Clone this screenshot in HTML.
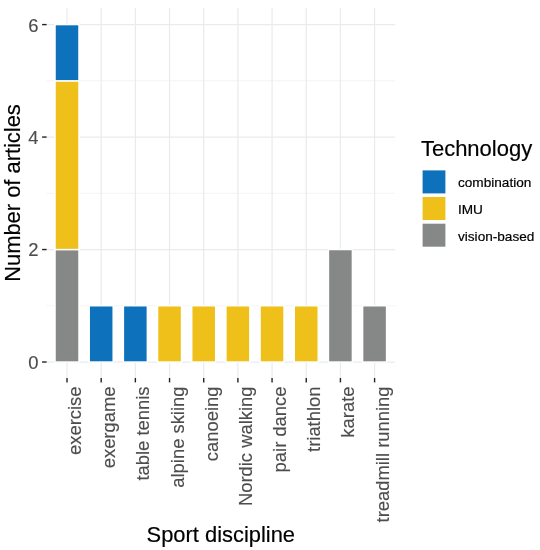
<!DOCTYPE html>
<html lang="en"><head><meta charset="utf-8"><title>Sport discipline chart</title>
<style>html,body{margin:0;padding:0;background:#fff}body{width:540px;height:550px;overflow:hidden;position:relative}</style>
</head><body>
<svg width="540" height="550" viewBox="0 0 540 550" style="display:block;position:absolute;left:0;top:0">
<rect width="540" height="550" fill="#fff"/>
<g><line x1="46.50" x2="395.10" y1="305.77" y2="305.77" stroke="#ececee" stroke-width="0.6"/><line x1="46.50" x2="395.10" y1="193.30" y2="193.30" stroke="#ececee" stroke-width="0.6"/><line x1="46.50" x2="395.10" y1="80.83" y2="80.83" stroke="#ececee" stroke-width="0.6"/><line x1="46.50" x2="395.10" y1="362.00" y2="362.00" stroke="#eaebed" stroke-width="1.25"/><line x1="46.50" x2="395.10" y1="249.53" y2="249.53" stroke="#eaebed" stroke-width="1.25"/><line x1="46.50" x2="395.10" y1="137.07" y2="137.07" stroke="#eaebed" stroke-width="1.25"/><line x1="46.50" x2="395.10" y1="24.60" y2="24.60" stroke="#eaebed" stroke-width="1.25"/><line x1="67.01" x2="67.01" y1="8.00" y2="378.00" stroke="#eaebed" stroke-width="1.25"/><line x1="101.18" x2="101.18" y1="8.00" y2="378.00" stroke="#eaebed" stroke-width="1.25"/><line x1="135.36" x2="135.36" y1="8.00" y2="378.00" stroke="#eaebed" stroke-width="1.25"/><line x1="169.54" x2="169.54" y1="8.00" y2="378.00" stroke="#eaebed" stroke-width="1.25"/><line x1="203.71" x2="203.71" y1="8.00" y2="378.00" stroke="#eaebed" stroke-width="1.25"/><line x1="237.89" x2="237.89" y1="8.00" y2="378.00" stroke="#eaebed" stroke-width="1.25"/><line x1="272.06" x2="272.06" y1="8.00" y2="378.00" stroke="#eaebed" stroke-width="1.25"/><line x1="306.24" x2="306.24" y1="8.00" y2="378.00" stroke="#eaebed" stroke-width="1.25"/><line x1="340.42" x2="340.42" y1="8.00" y2="378.00" stroke="#eaebed" stroke-width="1.25"/><line x1="374.59" x2="374.59" y1="8.00" y2="378.00" stroke="#eaebed" stroke-width="1.25"/></g>
<g><rect x="55.04" y="249.53" width="23.92" height="112.47" fill="#868887" stroke="#fff" stroke-width="1.42"/><rect x="55.04" y="80.83" width="23.92" height="168.70" fill="#EFBF1A" stroke="#fff" stroke-width="1.42"/><rect x="55.04" y="24.60" width="23.92" height="56.23" fill="#0D72BB" stroke="#fff" stroke-width="1.42"/><rect x="89.22" y="305.77" width="23.92" height="56.23" fill="#0D72BB" stroke="#fff" stroke-width="1.42"/><rect x="123.40" y="305.77" width="23.92" height="56.23" fill="#0D72BB" stroke="#fff" stroke-width="1.42"/><rect x="157.57" y="305.77" width="23.92" height="56.23" fill="#EFBF1A" stroke="#fff" stroke-width="1.42"/><rect x="191.75" y="305.77" width="23.92" height="56.23" fill="#EFBF1A" stroke="#fff" stroke-width="1.42"/><rect x="225.93" y="305.77" width="23.92" height="56.23" fill="#EFBF1A" stroke="#fff" stroke-width="1.42"/><rect x="260.10" y="305.77" width="23.92" height="56.23" fill="#EFBF1A" stroke="#fff" stroke-width="1.42"/><rect x="294.28" y="305.77" width="23.92" height="56.23" fill="#EFBF1A" stroke="#fff" stroke-width="1.42"/><rect x="328.46" y="249.53" width="23.92" height="112.47" fill="#868887" stroke="#fff" stroke-width="1.42"/><rect x="362.63" y="305.77" width="23.92" height="56.23" fill="#868887" stroke="#fff" stroke-width="1.42"/></g>
<g><line x1="42.10" x2="46.60" y1="362.00" y2="362.00" stroke="#222" stroke-width="1.4"/><line x1="42.10" x2="46.60" y1="249.53" y2="249.53" stroke="#222" stroke-width="1.4"/><line x1="42.10" x2="46.60" y1="137.07" y2="137.07" stroke="#222" stroke-width="1.4"/><line x1="42.10" x2="46.60" y1="24.60" y2="24.60" stroke="#222" stroke-width="1.4"/><line x1="67.01" x2="67.01" y1="378.00" y2="382.40" stroke="#222" stroke-width="1.4"/><line x1="101.18" x2="101.18" y1="378.00" y2="382.40" stroke="#222" stroke-width="1.4"/><line x1="135.36" x2="135.36" y1="378.00" y2="382.40" stroke="#222" stroke-width="1.4"/><line x1="169.54" x2="169.54" y1="378.00" y2="382.40" stroke="#222" stroke-width="1.4"/><line x1="203.71" x2="203.71" y1="378.00" y2="382.40" stroke="#222" stroke-width="1.4"/><line x1="237.89" x2="237.89" y1="378.00" y2="382.40" stroke="#222" stroke-width="1.4"/><line x1="272.06" x2="272.06" y1="378.00" y2="382.40" stroke="#222" stroke-width="1.4"/><line x1="306.24" x2="306.24" y1="378.00" y2="382.40" stroke="#222" stroke-width="1.4"/><line x1="340.42" x2="340.42" y1="378.00" y2="382.40" stroke="#222" stroke-width="1.4"/><line x1="374.59" x2="374.59" y1="378.00" y2="382.40" stroke="#222" stroke-width="1.4"/></g>
<g><text x="38.60" y="368.90" text-anchor="end" font-size="18.4" fill="#4d4d4d" stroke="#4d4d4d" stroke-width="0.15" font-family="Liberation Sans, Arial, Helvetica, sans-serif">0</text><text x="38.60" y="256.43" text-anchor="end" font-size="18.4" fill="#4d4d4d" stroke="#4d4d4d" stroke-width="0.15" font-family="Liberation Sans, Arial, Helvetica, sans-serif">2</text><text x="38.60" y="143.97" text-anchor="end" font-size="18.4" fill="#4d4d4d" stroke="#4d4d4d" stroke-width="0.15" font-family="Liberation Sans, Arial, Helvetica, sans-serif">4</text><text x="38.60" y="31.50" text-anchor="end" font-size="18.4" fill="#4d4d4d" stroke="#4d4d4d" stroke-width="0.15" font-family="Liberation Sans, Arial, Helvetica, sans-serif">6</text></g>
<g><text transform="translate(81.01,386.50) rotate(-90)" text-anchor="end" font-size="18.4" fill="#4d4d4d" stroke="#4d4d4d" stroke-width="0.15" font-family="Liberation Sans, Arial, Helvetica, sans-serif">exercise</text><text transform="translate(115.18,386.50) rotate(-90)" text-anchor="end" font-size="18.4" fill="#4d4d4d" stroke="#4d4d4d" stroke-width="0.15" font-family="Liberation Sans, Arial, Helvetica, sans-serif">exergame</text><text transform="translate(149.36,386.50) rotate(-90)" text-anchor="end" font-size="18.4" fill="#4d4d4d" stroke="#4d4d4d" stroke-width="0.15" font-family="Liberation Sans, Arial, Helvetica, sans-serif">table tennis</text><text transform="translate(183.54,386.50) rotate(-90)" text-anchor="end" font-size="18.4" fill="#4d4d4d" stroke="#4d4d4d" stroke-width="0.15" font-family="Liberation Sans, Arial, Helvetica, sans-serif">alpine skiing</text><text transform="translate(217.71,386.50) rotate(-90)" text-anchor="end" font-size="18.4" fill="#4d4d4d" stroke="#4d4d4d" stroke-width="0.15" font-family="Liberation Sans, Arial, Helvetica, sans-serif">canoeing</text><text transform="translate(251.89,386.50) rotate(-90)" text-anchor="end" font-size="18.4" fill="#4d4d4d" stroke="#4d4d4d" stroke-width="0.15" font-family="Liberation Sans, Arial, Helvetica, sans-serif">Nordic walking</text><text transform="translate(286.06,386.50) rotate(-90)" text-anchor="end" font-size="18.4" fill="#4d4d4d" stroke="#4d4d4d" stroke-width="0.15" font-family="Liberation Sans, Arial, Helvetica, sans-serif">pair dance</text><text transform="translate(320.24,386.50) rotate(-90)" text-anchor="end" font-size="18.4" fill="#4d4d4d" stroke="#4d4d4d" stroke-width="0.15" font-family="Liberation Sans, Arial, Helvetica, sans-serif">triathlon</text><text transform="translate(354.42,386.50) rotate(-90)" text-anchor="end" font-size="18.4" fill="#4d4d4d" stroke="#4d4d4d" stroke-width="0.15" font-family="Liberation Sans, Arial, Helvetica, sans-serif">karate</text><text transform="translate(388.59,386.50) rotate(-90)" text-anchor="end" font-size="18.4" fill="#4d4d4d" stroke="#4d4d4d" stroke-width="0.15" font-family="Liberation Sans, Arial, Helvetica, sans-serif">treadmill running</text></g>
<text x="220.80" y="542.4" text-anchor="middle" font-size="21.9" fill="#000" stroke="#000" stroke-width="0.18" font-family="Liberation Sans, Arial, Helvetica, sans-serif">Sport discipline</text>
<text transform="translate(20.3,193.00) rotate(-90)" text-anchor="middle" font-size="21.9" fill="#000" stroke="#000" stroke-width="0.18" font-family="Liberation Sans, Arial, Helvetica, sans-serif">Number of articles</text>
<text x="420.9" y="155.7" font-size="22.0" fill="#000" stroke="#000" stroke-width="0.18" font-family="Liberation Sans, Arial, Helvetica, sans-serif">Technology</text>
<rect x="422.6" y="170.4" width="22.8" height="23.0" fill="#0D72BB"/>
<text x="458.0" y="187.00" font-size="13.6" fill="#000" stroke="#000" stroke-width="0.2" font-family="Liberation Sans, Arial, Helvetica, sans-serif">combination</text>
<rect x="422.6" y="197.0" width="22.8" height="23.0" fill="#EFBF1A"/>
<text x="458.0" y="213.70" font-size="13.6" fill="#000" stroke="#000" stroke-width="0.2" font-family="Liberation Sans, Arial, Helvetica, sans-serif">IMU</text>
<rect x="422.6" y="223.7" width="22.8" height="23.0" fill="#868887"/>
<text x="458.0" y="240.70" font-size="13.6" fill="#000" stroke="#000" stroke-width="0.2" font-family="Liberation Sans, Arial, Helvetica, sans-serif">vision-based</text>
</svg>
</body></html>
